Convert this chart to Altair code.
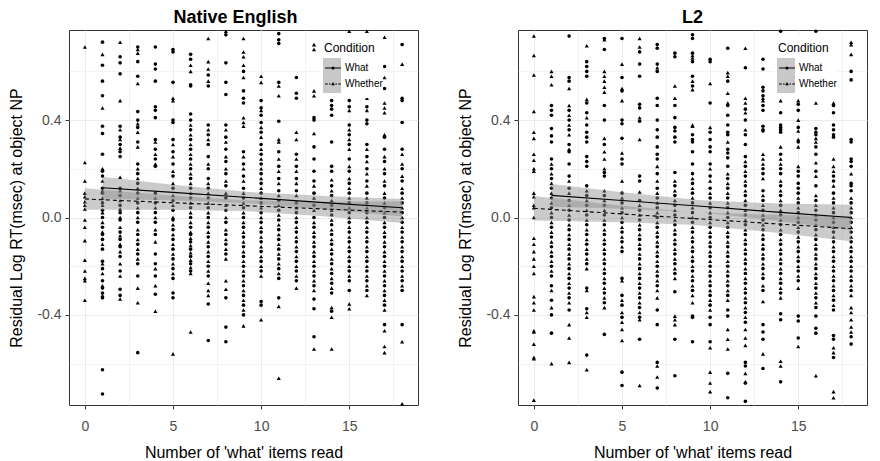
import altair as alt
import pandas as pd

FONT = "Liberation Sans"

# residual log RT at object NP, one list per number of 'what' items read
NE_WHAT = {
    1: [0.72, 0.625, 0.56, 0.50, 0.375, 0.345, 0.26, 0.19, 0.17, 0.12, 0.10, 0.06, 0.03, 0.0, -0.04, -0.07, -0.09, -0.13, -0.18, -0.21, -0.26, -0.29, -0.31, -0.33, -0.625, -0.725],
    2: [0.66, 0.635, 0.59, 0.375, 0.33, 0.30, 0.27, 0.25, 0.12, 0.09, 0.05, 0.02, -0.01, -0.06, -0.09, -0.12, -0.16, -0.22, -0.295, -0.32],
    3: [0.70, 0.64, 0.58, 0.435, 0.40, 0.37, 0.31, 0.22, 0.18, 0.14, 0.10, 0.06, 0.02, -0.02, -0.07, -0.11, -0.15, -0.19, -0.24, -0.555],
    4: [0.70, 0.63, 0.61, 0.56, 0.455, 0.44, 0.41, 0.32, 0.28, 0.24, 0.21, 0.10, 0.06, 0.02, -0.02, -0.07, -0.15, -0.19, -0.24, -0.315],
    5: [0.69, 0.68, 0.555, 0.40, 0.39, 0.32, 0.27, 0.22, 0.17, 0.12, 0.07, 0.03, -0.01, -0.05, -0.09, -0.13, -0.17, -0.21, -0.25, -0.31, -0.33],
    6: [0.67, 0.65, 0.545, 0.54, 0.425, 0.40, 0.36, 0.32, 0.28, 0.24, 0.20, 0.16, 0.12, 0.08, 0.04, 0.0, -0.04, -0.07, -0.10, -0.13, -0.16, -0.19, -0.22],
    7: [0.585, 0.54, 0.38, 0.34, 0.30, 0.25, 0.20, 0.16, 0.12, 0.08, 0.04, 0.0, -0.04, -0.08, -0.12, -0.16, -0.20, -0.24, -0.355, -0.505],
    8: [0.75, 0.635, 0.555, 0.505, 0.38, 0.33, 0.28, 0.23, 0.18, 0.13, 0.08, 0.03, -0.02, -0.07, -0.11, -0.15, -0.33, -0.45, -0.51],
    9: [0.60, 0.52, 0.49, 0.47, 0.27, 0.22, 0.17, 0.12, 0.08, 0.04, 0.0, -0.04, -0.08, -0.12, -0.16, -0.20, -0.24, -0.28, -0.32, -0.36, -0.40],
    10: [0.48, 0.45, 0.42, 0.39, 0.35, 0.30, 0.26, 0.22, 0.18, 0.14, 0.10, 0.06, 0.02, -0.02, -0.06, -0.10, -0.14, -0.18, -0.22, -0.345, -0.36],
    11: [0.755, 0.73, 0.715, 0.555, 0.395, 0.27, 0.21, 0.16, 0.11, 0.07, 0.03, -0.01, -0.05, -0.09, -0.13, -0.17, -0.21, -0.25, -0.33],
    12: [0.575, 0.51, 0.49, 0.26, 0.21, 0.16, 0.11, 0.06, 0.02, -0.02, -0.06, -0.10, -0.14, -0.18, -0.22, -0.26],
    13: [0.41, 0.40, 0.29, 0.24, 0.19, 0.15, 0.10, 0.05, 0.0, -0.04, -0.08, -0.12, -0.16, -0.20, -0.24, -0.28, -0.335, -0.375, -0.49],
    14: [0.48, 0.46, 0.445, 0.42, 0.31, 0.21, 0.19, 0.13, 0.09, 0.05, 0.01, -0.03, -0.07, -0.11, -0.15, -0.19, -0.23, -0.27, -0.31, -0.385],
    15: [0.48, 0.455, 0.38, 0.34, 0.30, 0.24, 0.19, 0.14, 0.10, 0.06, 0.02, -0.02, -0.06, -0.10, -0.14, -0.18, -0.22, -0.26, -0.30],
    16: [0.455, 0.40, 0.385, 0.30, 0.25, 0.20, 0.15, 0.10, 0.06, 0.02, -0.02, -0.06, -0.10, -0.14, -0.18, -0.22, -0.26, -0.30],
    17: [0.62, 0.53, 0.33, 0.28, 0.23, 0.18, 0.13, 0.08, 0.04, 0.0, -0.04, -0.08, -0.12, -0.16, -0.20, -0.24, -0.28, -0.32, -0.36, -0.44],
    18: [0.71, 0.49, 0.48, 0.39, 0.28, 0.20, 0.15, 0.10, 0.06, 0.02, -0.02, -0.06, -0.10, -0.14, -0.18, -0.22, -0.26, -0.30, -0.44],
}

NE_WHETHER = {
    0: [0.70, 0.226, 0.15, 0.10, 0.085, 0.065, 0.05, 0.035, -0.01, -0.04, -0.095, -0.175, -0.22, -0.25, -0.26, -0.34],
    1: [0.67, 0.45, 0.20, 0.15, 0.11, 0.08, 0.05, 0.02, -0.02, -0.06, -0.11, -0.19, -0.23, -0.28, -0.32],
    2: [0.72, 0.48, 0.36, 0.32, 0.285, 0.165, 0.11, 0.07, 0.035, 0.0, -0.04, -0.075, -0.11, -0.14, -0.19, -0.24, -0.335],
    3: [0.69, 0.675, 0.55, 0.385, 0.35, 0.29, 0.20, 0.16, 0.12, 0.08, 0.04, 0.0, -0.05, -0.09, -0.13, -0.17, -0.29, -0.35],
    4: [0.31, 0.26, 0.22, 0.08, 0.04, 0.0, -0.05, -0.10, -0.21, -0.28, -0.385],
    5: [0.49, 0.48, 0.30, 0.25, 0.19, 0.14, 0.09, 0.05, 0.0, -0.03, -0.07, -0.11, -0.15, -0.19, -0.23, -0.56],
    6: [0.625, 0.60, 0.38, 0.34, 0.30, 0.26, 0.22, 0.18, 0.14, 0.10, 0.06, 0.02, -0.02, -0.06, -0.085, -0.115, -0.145, -0.175, -0.205, -0.23, -0.47],
    7: [0.735, 0.64, 0.61, 0.56, 0.36, 0.32, 0.22, 0.14, 0.10, 0.06, 0.02, -0.02, -0.06, -0.10, -0.14, -0.18, -0.22, -0.27, -0.30, -0.32],
    8: [0.765, 0.36, 0.31, 0.25, 0.20, 0.15, 0.10, 0.05, 0.0, -0.05, -0.09, -0.13, -0.17, -0.26, -0.295],
    9: [0.735, 0.68, 0.66, 0.625, 0.575, 0.41, 0.39, 0.375, 0.25, 0.20, 0.15, 0.10, 0.06, 0.02, -0.02, -0.06, -0.10, -0.14, -0.18, -0.22, -0.26, -0.30, -0.34, -0.38, -0.445],
    10: [0.58, 0.555, 0.44, 0.37, 0.33, 0.28, 0.24, 0.20, 0.16, 0.12, 0.08, 0.04, 0.0, -0.04, -0.08, -0.12, -0.16, -0.20, -0.24, -0.42],
    11: [0.54, 0.50, 0.32, 0.31, 0.24, 0.19, 0.14, 0.09, 0.05, 0.01, -0.03, -0.07, -0.11, -0.15, -0.19, -0.23, -0.365, -0.66],
    12: [0.35, 0.32, 0.24, 0.19, 0.14, 0.09, 0.04, 0.0, -0.04, -0.08, -0.12, -0.16, -0.20, -0.24, -0.29],
    13: [0.71, 0.69, 0.52, 0.50, 0.345, 0.13, 0.08, 0.03, -0.02, -0.06, -0.10, -0.14, -0.18, -0.22, -0.26, -0.30, -0.54],
    14: [0.155, 0.11, 0.07, 0.03, -0.01, -0.05, -0.09, -0.13, -0.17, -0.21, -0.25, -0.29, -0.37, -0.41, -0.54],
    15: [0.765, 0.44, 0.36, 0.32, 0.28, 0.21, 0.16, 0.12, 0.08, 0.04, 0.0, -0.04, -0.08, -0.12, -0.16, -0.20, -0.24, -0.355, -0.375],
    16: [0.765, 0.49, 0.44, 0.28, 0.23, 0.18, 0.13, 0.08, 0.04, 0.0, -0.04, -0.08, -0.12, -0.16, -0.20, -0.24, -0.28, -0.32],
    17: [0.74, 0.575, 0.47, 0.45, 0.43, 0.34, 0.25, 0.20, 0.15, 0.10, 0.06, 0.02, -0.02, -0.06, -0.10, -0.14, -0.18, -0.22, -0.26, -0.30, -0.34, -0.38, -0.465, -0.53, -0.555],
    18: [0.63, 0.26, 0.22, 0.17, 0.12, 0.08, 0.04, 0.0, -0.04, -0.08, -0.12, -0.16, -0.20, -0.24, -0.28, -0.51, -0.765],
}

L2_WHAT = {
    1: [0.46, 0.44, 0.42, 0.365, 0.335, 0.31, 0.24, 0.20, 0.16, 0.12, 0.08, 0.04, 0.0, -0.04, -0.08, -0.12, -0.16, -0.20, -0.24, -0.28, -0.34, -0.40, -0.475],
    2: [0.745, 0.575, 0.56, 0.44, 0.40, 0.36, 0.30, 0.27, 0.22, 0.17, 0.12, 0.07, 0.03, -0.01, -0.05, -0.09, -0.13, -0.17, -0.21, -0.25, -0.29, -0.33, -0.38],
    3: [0.64, 0.62, 0.60, 0.58, 0.47, 0.43, 0.38, 0.35, 0.33, 0.31, 0.25, 0.23, 0.21, 0.13, 0.09, 0.05, 0.01, -0.03, -0.07, -0.11, -0.15, -0.19, -0.29, -0.375, -0.565],
    4: [0.735, 0.69, 0.46, 0.40, 0.30, 0.185, 0.17, 0.09, 0.05, 0.01, -0.03, -0.07, -0.11, -0.15, -0.19, -0.23, -0.27, -0.31, -0.35, -0.48],
    5: [0.735, 0.575, 0.52, 0.40, 0.385, 0.325, 0.24, 0.22, 0.10, 0.06, 0.02, -0.02, -0.06, -0.10, -0.14, -0.25, -0.32, -0.36, -0.41, -0.635, -0.69],
    6: [0.68, 0.63, 0.58, 0.465, 0.45, 0.395, 0.17, 0.15, 0.07, 0.03, -0.01, -0.05, -0.09, -0.13, -0.17, -0.21, -0.25, -0.29, -0.33, -0.37, -0.41, -0.50],
    7: [0.71, 0.695, 0.63, 0.60, 0.49, 0.46, 0.40, 0.36, 0.33, 0.29, 0.26, 0.24, 0.18, 0.12, 0.08, 0.04, 0.0, -0.04, -0.08, -0.12, -0.16, -0.20, -0.24, -0.28, -0.38, -0.44, -0.595, -0.70],
    8: [0.675, 0.66, 0.46, 0.41, 0.37, 0.355, 0.33, 0.31, 0.185, 0.13, 0.09, 0.05, 0.01, -0.03, -0.07, -0.11, -0.15, -0.19, -0.23, -0.305, -0.50, -0.65],
    9: [0.75, 0.735, 0.675, 0.64, 0.58, 0.54, 0.34, 0.32, 0.31, 0.27, 0.22, 0.18, 0.14, 0.10, 0.06, 0.02, -0.02, -0.06, -0.10, -0.14, -0.18, -0.22, -0.26, -0.30, -0.405, -0.41, -0.51],
    10: [0.65, 0.64, 0.47, 0.35, 0.32, 0.29, 0.27, 0.22, 0.17, 0.12, 0.08, 0.04, 0.0, -0.04, -0.08, -0.12, -0.16, -0.20, -0.24, -0.28, -0.32, -0.36, -0.41, -0.44, -0.51],
    11: [0.695, 0.56, 0.46, 0.42, 0.38, 0.35, 0.34, 0.28, 0.265, 0.245, 0.21, 0.16, 0.12, 0.08, 0.04, 0.0, -0.04, -0.08, -0.12, -0.16, -0.20, -0.24, -0.28, -0.32, -0.38, -0.405, -0.64, -0.74],
    12: [0.615, 0.445, 0.40, 0.34, 0.30, 0.25, 0.21, 0.17, 0.13, 0.09, 0.05, 0.01, -0.03, -0.07, -0.11, -0.15, -0.19, -0.23, -0.27, -0.31, -0.35, -0.39, -0.43, -0.595, -0.61, -0.68, -0.755],
    13: [0.65, 0.61, 0.535, 0.52, 0.50, 0.46, 0.44, 0.375, 0.36, 0.355, 0.20, 0.18, 0.11, 0.07, 0.03, -0.01, -0.05, -0.09, -0.13, -0.17, -0.21, -0.25, -0.30, -0.44, -0.47, -0.50, -0.62],
    14: [0.765, 0.43, 0.38, 0.37, 0.36, 0.35, 0.26, 0.20, 0.18, 0.13, 0.09, 0.05, 0.01, -0.03, -0.07, -0.11, -0.15, -0.19, -0.23, -0.27, -0.31, -0.395, -0.42, -0.675],
    15: [0.465, 0.44, 0.37, 0.31, 0.19, 0.17, 0.14, 0.12, 0.10, 0.06, 0.02, -0.02, -0.06, -0.10, -0.14, -0.18, -0.22, -0.26, -0.405, -0.425, -0.495],
    16: [0.765, 0.365, 0.35, 0.34, 0.29, 0.26, 0.19, 0.13, 0.07, 0.03, -0.01, -0.05, -0.09, -0.13, -0.17, -0.21, -0.25, -0.29, -0.33, -0.37, -0.405, -0.455, -0.475],
    17: [0.46, 0.43, 0.38, 0.36, 0.34, 0.33, 0.17, 0.15, 0.10, 0.06, 0.02, -0.02, -0.06, -0.10, -0.14, -0.18, -0.22, -0.26, -0.30, -0.34, -0.38, -0.485, -0.50, -0.575],
    18: [0.60, 0.565, 0.32, 0.31, 0.24, 0.23, 0.21, 0.14, 0.13, 0.11, 0.06, 0.02, -0.02, -0.06, -0.10, -0.14, -0.18, -0.22, -0.26, -0.30, -0.49, -0.52],
}

L2_WHETHER = {
    0: [0.745, 0.665, 0.585, 0.435, 0.35, 0.325, 0.26, 0.235, 0.20, 0.19, 0.10, 0.085, 0.05, 0.04, 0.0, -0.085, -0.11, -0.14, -0.17, -0.20, -0.23, -0.325, -0.35, -0.38, -0.465, -0.47, -0.52, -0.575, -0.58, -0.75],
    1: [0.60, 0.58, 0.545, 0.22, 0.18, 0.14, 0.10, 0.06, 0.02, -0.02, -0.06, -0.10, -0.14, -0.18, -0.22, -0.30, -0.37, -0.60],
    2: [0.53, 0.46, 0.42, 0.38, 0.34, 0.28, 0.15, 0.10, 0.05, 0.01, -0.03, -0.07, -0.11, -0.15, -0.19, -0.23, -0.27, -0.31, -0.35, -0.44, -0.495, -0.595],
    3: [0.705, 0.485, 0.41, 0.11, 0.07, 0.03, -0.01, -0.05, -0.09, -0.13, -0.17, -0.21, -0.30, -0.39, -0.41, -0.625],
    4: [0.73, 0.60, 0.58, 0.56, 0.535, 0.515, 0.325, 0.27, 0.24, 0.20, 0.11, 0.07, 0.03, -0.01, -0.05, -0.09, -0.13, -0.17, -0.21, -0.25, -0.29, -0.33, -0.37],
    5: [0.63, 0.53, 0.48, 0.265, 0.15, 0.08, 0.04, 0.0, -0.04, -0.08, -0.12, -0.26, -0.34, -0.39, -0.43, -0.46, -0.505],
    6: [0.735, 0.70, 0.41, 0.32, 0.105, 0.05, 0.01, -0.03, -0.07, -0.11, -0.15, -0.19, -0.23, -0.27, -0.31, -0.35, -0.39, -0.42, -0.69],
    7: [0.615, 0.21, 0.15, 0.10, 0.06, 0.02, -0.02, -0.06, -0.10, -0.14, -0.18, -0.22, -0.26, -0.30, -0.33, -0.61, -0.655],
    8: [0.54, 0.49, 0.15, 0.11, 0.07, 0.03, -0.01, -0.05, -0.09, -0.13, -0.17, -0.21, -0.25, -0.405, -0.42, -0.44],
    9: [0.665, 0.655, 0.56, 0.525, 0.38, 0.375, 0.16, 0.12, 0.08, 0.04, 0.0, -0.04, -0.08, -0.12, -0.16, -0.20, -0.24, -0.28, -0.32, -0.35],
    10: [0.55, 0.37, 0.20, 0.15, 0.10, 0.06, 0.02, -0.02, -0.06, -0.10, -0.14, -0.18, -0.22, -0.26, -0.30, -0.34, -0.38, -0.535, -0.635, -0.68, -0.715],
    11: [0.595, 0.58, 0.51, 0.47, 0.31, 0.18, 0.14, 0.10, 0.06, 0.02, -0.02, -0.06, -0.10, -0.14, -0.18, -0.22, -0.26, -0.30, -0.34, -0.46, -0.50, -0.54],
    12: [0.695, 0.49, 0.47, 0.43, 0.36, 0.23, 0.19, 0.15, 0.11, 0.07, 0.03, -0.01, -0.05, -0.09, -0.13, -0.17, -0.21, -0.25, -0.29, -0.33, -0.37, -0.41, -0.46, -0.495, -0.525, -0.64, -0.675],
    13: [0.49, 0.48, 0.26, 0.24, 0.22, 0.16, 0.09, 0.05, 0.01, -0.03, -0.07, -0.11, -0.15, -0.19, -0.23, -0.28, -0.345, -0.56],
    14: [0.48, 0.29, 0.24, 0.22, 0.15, 0.11, 0.07, 0.03, -0.01, -0.05, -0.09, -0.13, -0.17, -0.21, -0.25, -0.29, -0.33, -0.59, -0.61],
    15: [0.48, 0.40, 0.355, 0.32, 0.29, 0.21, 0.08, 0.04, 0.0, -0.04, -0.08, -0.12, -0.16, -0.20, -0.24, -0.29, -0.53],
    16: [0.47, 0.325, 0.31, 0.225, 0.17, 0.09, 0.05, 0.01, -0.03, -0.07, -0.11, -0.15, -0.19, -0.23, -0.27, -0.31, -0.35, -0.65],
    17: [0.605, 0.47, 0.24, 0.21, 0.19, 0.13, 0.08, 0.04, 0.0, -0.04, -0.08, -0.12, -0.16, -0.20, -0.24, -0.28, -0.32, -0.36, -0.535, -0.555, -0.715, -0.74],
    18: [0.72, 0.71, 0.67, 0.18, 0.08, 0.04, 0.0, -0.04, -0.08, -0.12, -0.16, -0.20, -0.24, -0.28, -0.32, -0.37, -0.39, -0.42, -0.45, -0.47],
}

# regression lines and their confidence bands
FIT_X_WHAT = [1, 5, 9.5, 14, 18]
FIT_X_WHETHER = [0, 4.5, 9, 13.5, 18]

NE_WHAT_FIT = [0.122, 0.103, 0.081, 0.059, 0.040]
NE_WHAT_LO = [0.077, 0.071, 0.058, 0.031, 0.004]
NE_WHAT_HI = [0.167, 0.135, 0.104, 0.087, 0.076]
NE_WHETHER_FIT = [0.076, 0.062, 0.049, 0.035, 0.022]
NE_WHETHER_LO = [0.032, 0.032, 0.027, 0.005, -0.023]
NE_WHETHER_HI = [0.120, 0.092, 0.071, 0.065, 0.067]

L2_WHAT_FIT = [0.091, 0.070, 0.046, 0.021, 0.0]
L2_WHAT_LO = [0.044, 0.036, 0.021, -0.015, -0.052]
L2_WHAT_HI = [0.138, 0.104, 0.071, 0.057, 0.052]
L2_WHETHER_FIT = [0.038, 0.017, -0.004, -0.025, -0.046]
L2_WHETHER_LO = [-0.012, -0.018, -0.030, -0.061, -0.098]
L2_WHETHER_HI = [0.088, 0.052, 0.022, 0.011, 0.006]

X_TICKS = [0, 2.5, 5, 7.5, 10, 12.5, 15, 17.5]
Y_TICKS = [-0.6, -0.4, -0.2, 0.0, 0.2, 0.4, 0.6]

# legend keys: a line with the point marker drawn on it
WHAT_KEY = ("M-1,-0.07L1,-0.07L1,0.07L-1,0.07Z "
            "M0.2,0A0.2,0.2,0,1,1,-0.2,0A0.2,0.2,0,1,1,0.2,0Z")
WHETHER_KEY = ("M-1,-0.07H-0.65V0.07H-1Z M-0.5,-0.07H-0.3V0.07H-0.5Z "
               "M0,-0.26L0.24,0.17L-0.24,0.17Z "
               "M0.3,-0.07H0.5V0.07H0.3Z M0.65,-0.07H1V0.07H0.65Z")

PANEL_W = 349
PANEL_H = 375


def points_frame(what, whether):
    rows = []
    for cond, cols in (("What", what), ("Whether", whether)):
        for x, ys in cols.items():
            rows += [{"items": x, "resid": y, "Condition": cond} for y in ys]
    return pd.DataFrame(rows)


def fit_frame(what_fit, what_lo, what_hi, wh_fit, wh_lo, wh_hi):
    a = pd.DataFrame({"items": FIT_X_WHAT, "fit": what_fit, "lo": what_lo,
                      "hi": what_hi, "Condition": "What"})
    b = pd.DataFrame({"items": FIT_X_WHETHER, "fit": wh_fit, "lo": wh_lo,
                      "hi": wh_hi, "Condition": "Whether"})
    return pd.concat([a, b], ignore_index=True)


def panel(title, title_dx, legend_x, pts, fit):
    major_x = "datum.value % 5 === 0"
    major_y = "abs(datum.value) < 0.01 || abs(abs(datum.value) - 0.4) < 0.01"

    x = alt.X(
        "items:Q",
        title="Number of 'what' items read",
        scale=alt.Scale(domain=[-0.9, 18.9], nice=False, zero=False),
        axis=alt.Axis(
            values=X_TICKS,
            labelExpr="datum.value % 5 === 0 ? '' + datum.value : ''",
            tickOpacity={"condition": {"test": major_x, "value": 1}, "value": 0},
            gridWidth={"condition": {"test": major_x, "value": 1}, "value": 0.6},
            gridColor="#ebebeb", domain=False, tickColor="#333333", tickSize=4,
            labelFont=FONT, labelFontSize=14, labelColor="#4d4d4d", labelPadding=10,
            titleFont=FONT, titleFontSize=16, titleFontWeight="normal",
            titleColor="black", titlePadding=11,
        ),
    )
    y = alt.Y(
        "resid:Q",
        title="Residual Log RT(msec) at object NP",
        scale=alt.Scale(domain=[-0.77, 0.77], nice=False, zero=False),
        axis=alt.Axis(
            values=Y_TICKS,
            labelExpr=("abs(datum.value) < 0.01 ? '0.0' : abs(datum.value - 0.4) < 0.01 ? '0.4'"
                       " : abs(datum.value + 0.4) < 0.01 ? '-0.4' : ''"),
            tickOpacity={"condition": {"test": major_y, "value": 1}, "value": 0},
            gridWidth={"condition": {"test": major_y, "value": 1}, "value": 0.6},
            gridColor="#ebebeb", domain=False, tickColor="#333333", tickSize=4,
            labelFont=FONT, labelFontSize=14, labelColor="#4d4d4d", labelPadding=4,
            titleFont=FONT, titleFontSize=16, titleFontWeight="normal",
            titleColor="black", titlePadding=12,
        ),
    )

    base = alt.Chart(pts)
    circles = base.transform_filter("datum.Condition == 'What'").mark_point(
        shape="circle", filled=True, size=13, color="black", opacity=1
    ).encode(x=x, y=y)
    triangles = base.transform_filter("datum.Condition == 'Whether'").mark_point(
        shape="triangle-up", filled=True, size=17, color="black", opacity=1
    ).encode(x=x, y=y)

    band = alt.Chart(fit).mark_area(color="#8c8c8c", opacity=0.45).encode(
        x=x, y="lo:Q", y2="hi:Q", detail="Condition:N"
    )
    fit_base = alt.Chart(fit)
    line_what = fit_base.transform_filter("datum.Condition == 'What'").mark_line(
        color="black", strokeWidth=1.1
    ).encode(x=x, y="fit:Q")
    line_whether = fit_base.transform_filter("datum.Condition == 'Whether'").mark_line(
        color="black", strokeWidth=1.1, strokeDash=[4, 3]
    ).encode(x=x, y="fit:Q")

    # legend box: white background and the grey key column behind the symbols
    one = pd.DataFrame({"k": [0]})
    legend_bg = alt.Chart(one).mark_rect(color="white").encode(
        x=alt.value(legend_x - 4), x2=alt.value(legend_x + 59),
        y=alt.value(5), y2=alt.value(68)
    )
    key_bg = alt.Chart(one).mark_rect(color="#c8c8c8").encode(
        x=alt.value(legend_x - 1), x2=alt.value(legend_x + 17),
        y=alt.value(28), y2=alt.value(63)
    )
    keys = fit_base.mark_point(filled=True, color="black", opacity=0).encode(
        x=x, y="fit:Q",
        shape=alt.Shape(
            "Condition:N",
            scale=alt.Scale(domain=["What", "Whether"], range=[WHAT_KEY, WHETHER_KEY]),
            legend=alt.Legend(
                title="Condition", orient="none", legendX=legend_x, legendY=13,
                symbolSize=256, symbolFillColor="black", symbolOpacity=1,
                titleFont=FONT, titleFontSize=12, titleFontWeight="normal",
                titleColor="black", titlePadding=4,
                labelFont=FONT, labelFontSize=10, labelColor="black",
                labelOffset=3, rowPadding=2, padding=0,
            ),
        ),
    )

    return alt.layer(circles, triangles, band, line_what, line_whether,
                     legend_bg, key_bg, keys).properties(
        width=PANEL_W, height=PANEL_H,
        title=alt.TitleParams(text=title, font=FONT, fontSize=18, fontWeight="bold",
                              color="black", anchor="middle", dx=title_dx, offset=2),
    )


ne = panel("Native English", -8, 255,
           points_frame(NE_WHAT, NE_WHETHER),
           fit_frame(NE_WHAT_FIT, NE_WHAT_LO, NE_WHAT_HI,
                     NE_WHETHER_FIT, NE_WHETHER_LO, NE_WHETHER_HI))
l2 = panel("L2", 0, 260,
           points_frame(L2_WHAT, L2_WHETHER),
           fit_frame(L2_WHAT_FIT, L2_WHAT_LO, L2_WHAT_HI,
                     L2_WHETHER_FIT, L2_WHETHER_LO, L2_WHETHER_HI))

chart = alt.hconcat(ne, l2, spacing=38).resolve_scale(
    shape="independent"
).resolve_legend(shape="independent").properties(
    padding=0, background="white"
).configure_view(stroke="#333333", strokeWidth=1)

chart.save("out.html", embed_options={"renderer": "svg", "actions": False})
